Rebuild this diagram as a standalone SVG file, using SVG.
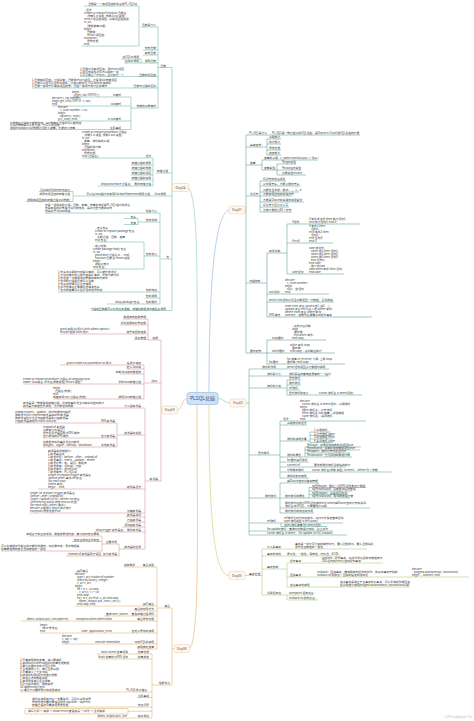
<svg xmlns="http://www.w3.org/2000/svg" width="474" height="721" viewBox="0 0 474 721">
<style>
.t{font-family:"Noto Sans CJK SC","Noto Sans",sans-serif;font-size:2.8px;fill:#3a3a3a}
.e{text-anchor:end}
.dt{font-family:"Noto Sans",sans-serif;font-size:3.4px;fill:#555;text-anchor:middle}
.day{fill:#fff8f0;stroke:#f0c49a;stroke-width:0.5}
.c{fill:none;stroke-width:0.5}
.c1{stroke:#4f8f86}.c2{stroke:#4f9a8c}.c3{stroke:#c98b8b}.c4{stroke:#5fae9a}.c5{stroke:#9cc26b}.c6{stroke:#d9a45c}
.cv{fill:none;stroke-width:0.8}
.box{fill:#fff;stroke:#d9a45c;stroke-width:0.5}
</style>
<rect width="474" height="721" fill="#fff"/>
<g id="connectors">
<path class="cv" stroke="#a8d8cc" d="M197,392.5 C197,300 199,200 188.5,187.5"/>
<path class="cv" stroke="#a7c7e6" d="M209,392.5 C209,300 213,215 229,210"/>
<path class="cv" stroke="#9fcfc4" d="M218,398.5 C224,398.5 224,403 230,403"/>
<path class="cv" stroke="#f0b8a8" d="M187,398.5 C182,398.5 182,410 177.5,410"/>
<path class="cv" stroke="#d9d98c" d="M209,404.5 C209,500 212,575 229,575.5"/>
<path class="cv" stroke="#f1bf85" d="M197,404.5 C197,520 200,640 189.5,648.5"/>
<path class="c c4" d="M172,67.5V310.5M158,67.5H172M158,27V108M141,27H158M139,6V46M84,6H139M82,46H139M143,50H158M143,55H158M141,63H158M141,59V63M121,59H141M124,63H141M80,76.5H158M32,88H158M131,108H158M131,97V129.5M72,97H131M52,106H131M58,121H131M10,129.5H131M156,173H172M153,158V186M82,158H153M131,165H153M131,170H153M131,175H153M131,180H153M98,186H153M73,196H172M73,191.5V201.5M39,191.5H73M26,201.5H73M161,259H172M160,213V304M45,213H160M138,222H160M138,218.5V224.5M124,218.5H138M124,224.5H138M144,256H160M144,242V269M95,242H144M93,269H144M58,292H160M145,298H160M107,304H160M93,310.5H172"/>
<path class="c c1" d="M245,210H246M246,135V353M246,135H360M246,147H267M267,139V155M267,139H281M267,144H281M267,150H281M267,155H281M246,165H262M262,160V170M262,160H318M262,170H277M277,164V175M277,164H296M277,170H301M277,175H306M246,196H260M260,181V212M260,181H286M260,186H300M260,192H299M260,196H292M260,202H304M260,207H289M260,212H292M246,283H267M267,253V317M267,253H287M287,224V274M287,224H360M287,243H333M287,274H344M267,294H329M267,302H334M267,317H372M246,353H267M267,340V364M267,340H326M267,353H335M267,364H345"/>
<path class="c c2" d="M246,403H249M249,369V535M249,369H329M249,376H329M249,388H287M287,380V395M287,380H301M287,385H301M287,390H300M287,395H362M249,455H280M280,421V478M280,421H366M280,425H307M280,441H310M310,432V442.5M310,432H331M310,435.5H333M310,439H333M310,442.5H333M280,457H305M305,447V457M305,447H361M305,450H360M305,453H350M305,457H352M280,462H309M280,467H346M280,472H392M280,478H309M249,498H280M280,483V513M280,483H319M280,498H309M309,487.5V498M309,487.5H366M309,491H352M309,494.5H348M309,498H350M280,508H370M280,513H314M249,523H343M281,523V526.5H327M249,531H333M249,535H347"/>
<path class="c c5" d="M245,575.5H262M262,549V595M262,549H367M262,556H341M262,569H287M287,563V587M287,563H383M287,577H469M287,587H410M262,595H313M287,595V600H318"/>
<path class="c c3" d="M161,340V481M161,410H162M148,340H161M148,319V339.5M123,319H148M120,325H148M60,334H148M134,339.5H148M144,383H161M144,365V399M60,365H144M126,369H144M120,374H144M23,384H144M53,399H144M145,481H161M145,408V549M23,408H145M117,435H145M117,423V447M15,423H117M43,438H117M43,447H117M38,489H145M30,513H145M126,517H145M126,522H145M122,527H145M94,532H145M119,549H145M119,544V556M102,544H119M102,536V551M29,536H102M72,541.5H102M1,551H102M66,556H119"/>
<path class="c c6" d="M172,608V685M172,648.5H174M157,608H172M157,567V649M124,567H157M75,606H157M134,611H157M104,616H157M21,621H157M40,633H157M62,644H157M137,649H157M152,685H172M152,654V718M97,654H152M99,659H152M20,692H152M137,697.5H152M32,707H152M128,711.25H152M97,718H152"/>
</g>
<g id="root">
<rect x="187" y="392.5" width="31" height="12" rx="2.5" fill="#cfe2f7" stroke="#8bb4e0" stroke-width="0.6"/>
<text x="202.5" y="400.4" style="font-family:'Noto Sans CJK SC','Noto Sans',sans-serif;font-size:5px;fill:#34507a;text-anchor:middle">PLSQL总结</text>
</g>
<g id="day04">
<rect class="day" x="172.5" y="183.5" width="16" height="8" rx="1.5"/>
<text class="dt" x="180.5" y="188.8">Day04</text>
</g>
<g id="day04-topics">
<text class="t e" x="166" y="66.9">函数</text>
<text class="t e" x="156" y="26.4">函数是什么</text>
<text class="t e" x="137" y="5.4">函数是一个有返回值的命名的PL/SQL块</text>
<text class="t" x="84" y="10.8"><tspan x="84">--语法</tspan><tspan x="84" dy="3.15">create or replace function 函数名</tspan><tspan x="87" dy="3.15">(参数1 in 类型, 参数2 out 类型)</tspan><tspan x="84" dy="3.15">return 返回值类型 --声明返回值类型</tspan><tspan x="84" dy="3.15">is | as</tspan><tspan x="87" dy="3.15">[局部变量声明]</tspan><tspan x="84" dy="3.15">begin</tspan><tspan x="87" dy="3.15">函数体</tspan><tspan x="87" dy="3.15">return 返回值;</tspan><tspan x="84" dy="3.15">exception</tspan><tspan x="87" dy="3.15">异常处理</tspan><tspan x="84" dy="3.15">end;</tspan></text>
<text class="t e" x="156" y="49.4">无参函数</text>
<text class="t e" x="156" y="54.4">有参函数</text>
<text class="t e" x="156" y="62.4">调用函数</text>
<text class="t e" x="139" y="58.4">在SQL中调用</text>
<text class="t e" x="139" y="62.4">在块中调用</text>
<text class="t e" x="156" y="75.9">函数的返回值</text>
<text class="t" x="80" y="69.7"><tspan x="80">1.函数必须有返回值，用return返回</tspan><tspan x="80" dy="3.1">2.返回值类型必须与声明的一致</tspan><tspan x="80" dy="3.1">3.可以有多个return，但只执行一个</tspan></text>
<text class="t e" x="156" y="87.4">函数与过程的区别</text>
<text class="t" x="32" y="81.2"><tspan x="32">1.函数有返回值，过程没有；函数用return返回，过程用out参数返回</tspan><tspan x="32" dy="3.1">2.函数可以在SQL语句中调用，过程只能在PL/SQL块中单独调用</tspan><tspan x="32" dy="3.1">3.函数一般用于计算并返回结果，过程一般用于执行业务操作</tspan></text>
<text class="t e" x="156" y="107.4">参数的三种模式</text>
<text class="t e" x="121" y="96.4">in模式</text>
<text class="t" x="72" y="93.3"><tspan x="72">begin</tspan><tspan x="74" dy="3.1">p(get_sal('SMITH'));</tspan></text>
<text class="t e" x="121" y="105.4">out模式</text>
<text class="t" x="52" y="99.2"><tspan x="52">declare v_sal number;</tspan><tspan x="52" dy="3.1">begin get_info('SMITH', v_sal);</tspan><tspan x="52" dy="3.1">end;</tspan></text>
<text class="t e" x="121" y="120.4">in out模式</text>
<text class="t" x="58" y="107.9"><tspan x="58">declare</tspan><tspan x="60" dy="2.9">v_num number := 10;</tspan><tspan x="58" dy="2.9">begin</tspan><tspan x="60" dy="2.9">square(v_num);</tspan><tspan x="58" dy="2.9">p(v_num); end;</tspan></text>
<text class="t e" x="121" y="128.9">注意事项</text>
<text class="t" x="10" y="123.6"><tspan x="10">in参数在过程中不能被赋值，out参数在过程中可以被赋值</tspan><tspan x="10" dy="2.7">in out参数既可以传入值，也可以返回值</tspan><tspan x="10" dy="2.7">调用时out和in out参数必须传入变量，不能传入常量</tspan></text>
<text class="t e" x="168" y="172.4">存储过程</text>
<text class="t" x="82" y="133"><tspan x="82">create or replace procedure 过程名</tspan><tspan x="84" dy="3.05">(参数1 in 类型, 参数2 out 类型)</tspan><tspan x="82" dy="3.05">is | as</tspan><tspan x="84" dy="3.05">变量、游标等的声明</tspan><tspan x="82" dy="3.05">begin</tspan><tspan x="84" dy="3.05">过程的执行体</tspan><tspan x="82" dy="3.05">exception</tspan><tspan x="84" dy="3.05">异常处理</tspan><tspan x="82" dy="3.05">end [过程名];</tspan></text>
<text class="t e" x="151" y="157.4">语法</text>
<text class="t e" x="151" y="164.4">存储过程的调用</text>
<text class="t e" x="151" y="169.4">存储过程的参数</text>
<text class="t e" x="151" y="174.4">存储过程的返回</text>
<text class="t e" x="151" y="179.4">存储过程的权限</text>
<text class="t e" x="151" y="185.4">删除存储过程</text>
<text class="t e" x="131" y="185.4">drop procedure 过程名;</text>
<text class="t e" x="166" y="195.4">Java调用</text>
<text class="t e" x="150" y="195.4">可以在Java程序中使用CallableStatement调用过程</text>
<text class="t e" x="70" y="190.9">CallableStatement接口</text>
<text class="t e" x="70" y="195.4">调用无返回值的存储过程</text>
<text class="t e" x="70" y="200.9">调用有返回值的存储过程(out参数)</text>
<text class="t e" x="169" y="258.4">包</text>
<text class="t e" x="157" y="212.4">包是什么</text>
<text class="t" x="45" y="206.2"><tspan x="45">包是一组相关的过程、函数、变量、常量和游标等PL/SQL程序的组合</tspan><tspan x="45" dy="3.1">包具有面向对象程序设计的特点，是对这些元素的封装</tspan><tspan x="45" dy="3.1">包类似于Java中的类</tspan></text>
<text class="t e" x="157" y="221.4">包的组成</text>
<text class="t e" x="136" y="217.9">包头</text>
<text class="t e" x="136" y="223.9">包体</text>
<text class="t" x="95" y="229.4"><tspan x="95">--定义包头</tspan><tspan x="95" dy="3">create or replace package 包名</tspan><tspan x="95" dy="3">is | as</tspan><tspan x="97" dy="3">声明过程、函数、变量</tspan><tspan x="95" dy="3">end 包名;</tspan></text>
<text class="t" x="93" y="247.4"><tspan x="93">--定义包体</tspan><tspan x="93" dy="3">create package body 包名</tspan><tspan x="93" dy="3">is | as</tspan><tspan x="95" dy="3">procedure 过程名 is ... end;</tspan><tspan x="95" dy="3">function 函数名 return 类型</tspan><tspan x="93" dy="3">begin</tspan><tspan x="95" dy="3">初始化部分</tspan><tspan x="93" dy="3">end 包名;</tspan></text>
<text class="t e" x="157" y="255.4">包的定义</text>
<text class="t e" x="157" y="291.4">包的特点</text>
<text class="t" x="58" y="273.4"><tspan x="58">1.包头中声明的内容是公有的，可以被外部访问</tspan><tspan x="58" dy="3">2.只在包体中定义的内容是私有的，外部不能访问</tspan><tspan x="58" dy="3">3.包在第一次被调用时整体加载到内存中</tspan><tspan x="58" dy="3">4.包中的过程和函数可以重载</tspan><tspan x="58" dy="3">5.包头和包体可以分开编译</tspan><tspan x="58" dy="3">6.修改包体后不需要重新编译包头</tspan><tspan x="58" dy="3">7.包中的变量可以在会话中保持状态</tspan></text>
<text class="t e" x="157" y="297.4">包的调用</text>
<text class="t e" x="157" y="303.4">包的删除</text>
<text class="t e" x="140" y="303.4">drop package 包名;</text>
<text class="t e" x="166" y="309.9">过程和函数都可以封装业务逻辑，存储在数据库中被重复调用</text>
</g>
<g id="day01">
<rect class="day" x="229" y="206" width="16" height="8" rx="1.5"/>
<text class="dt" x="237" y="211.3">Day01</text>
</g>
<g id="day01-topics">
<text class="t" x="249" y="134.4">PL/SQL是什么</text>
<text class="t" x="272" y="134.4">PL/SQL是一种过程化的SQL语言，是Oracle公司对标准SQL语言的扩展</text>
<text class="t" x="250" y="146.4">基本结构</text>
<text class="t" x="269" y="138.4">声明部分</text>
<text class="t" x="269" y="143.4">执行部分</text>
<text class="t" x="269" y="149.4">异常处理</text>
<text class="t" x="269" y="154.4">结束部分</text>
<text class="t" x="250" y="164.4">变量</text>
<text class="t" x="264" y="159.4">变量的声明</text>
<text class="t" x="280" y="159.4">v_name varchar2(20) := '张三';</text>
<text class="t" x="264" y="169.4">变量类型</text>
<text class="t" x="282" y="163.4">%type类型</text>
<text class="t" x="282" y="169.4">%rowtype类型</text>
<text class="t" x="282" y="174.4">记录类型record</text>
<text class="t" x="250" y="195.4">标识符</text>
<text class="t" x="263" y="180.4">标识符的命名规则</text>
<text class="t" x="263" y="185.4">以字母开头，不能以数字开头</text>
<text class="t" x="263" y="191.4">只能包含字母、数字、_、$、#</text>
<text class="t" x="263" y="195.4">不能使用空格和特殊字符</text>
<text class="t" x="263" y="201.4">不能是Oracle的关键字和保留字</text>
<text class="t" x="263" y="206.4">标识符不区分大小写</text>
<text class="t" x="263" y="211.4">长度不能超过30个字符</text>
<text class="t" x="249" y="282.4">流程控制</text>
<text class="t" x="269" y="252.4">条件判断</text>
<text class="t" x="292" y="223.4">if语句</text>
<text class="t" x="309" y="220.4"><tspan x="309">if 条件表达式 then 执行语句1;</tspan><tspan x="309" dy="3">else 执行语句2; end if;</tspan></text>
<text class="t" x="292" y="242.4">if elsif</text>
<text class="t" x="309" y="227.4"><tspan x="309">if 条件1 then</tspan><tspan x="311" dy="3">语句1;</tspan><tspan x="309" dy="3">elsif 条件2 then</tspan><tspan x="311" dy="3">语句2;</tspan><tspan x="309" dy="3">else 语句3;</tspan><tspan x="309" dy="3">end if;</tspan></text>
<text class="t" x="292" y="273.4">case语句</text>
<text class="t" x="309" y="249.4"><tspan x="309">case 表达式</tspan><tspan x="311" dy="3">when 值1 then 语句1;</tspan><tspan x="311" dy="3">when 值2 then 语句2;</tspan><tspan x="311" dy="3">when 值3 then 语句3;</tspan><tspan x="311" dy="3">else 语句n;</tspan><tspan x="309" dy="3">end case;</tspan><tspan x="309" dy="3">--搜索式case</tspan><tspan x="309" dy="3">case when 条件 then 语句;</tspan><tspan x="309" dy="3">end case;</tspan></text>
<text class="t" x="269" y="293.4">null语句</text>
<text class="t" x="285" y="281.4"><tspan x="285">declare</tspan><tspan x="287" dy="3">v_num number;</tspan><tspan x="285" dy="3">begin</tspan><tspan x="287" dy="3">null; --空语句</tspan><tspan x="285" dy="3">end;</tspan></text>
<text class="t" x="269" y="301.4">select into语句必须且只能返回一行数据，否则报错</text>
<text class="t" x="269" y="316.4">DML操作</text>
<text class="t" x="285" y="307.4"><tspan x="285">insert into 表名 values(值1, 值2, ...);</tspan><tspan x="285" dy="3">update 表名 set 列名 = 值 where 条件;</tspan><tspan x="285" dy="3">delete from 表名 where 条件;</tspan><tspan x="285" dy="3">commit; --增删改后需要手动提交事务</tspan></text>
<text class="t" x="250" y="352.4">循环结构</text>
<text class="t" x="272" y="339.4">loop循环</text>
<text class="t" x="292" y="327.4"><tspan x="292">--先执行后判断</tspan><tspan x="292" dy="3">loop</tspan><tspan x="294" dy="3">循环体;</tspan><tspan x="294" dy="3">exit when 条件;</tspan><tspan x="292" dy="3">end loop;</tspan></text>
<text class="t" x="272" y="352.4">while循环</text>
<text class="t" x="290" y="346.4"><tspan x="290">while 条件 loop</tspan><tspan x="292" dy="3">循环体;</tspan><tspan x="290" dy="3">end loop; --先判断后执行</tspan></text>
<text class="t" x="269" y="363.4">for循环</text>
<text class="t" x="287" y="360.4"><tspan x="287">for 变量 in [reverse] 下限..上限 loop</tspan><tspan x="287" dy="3">循环体; end loop;</tspan></text>
</g>
<g id="day02">
<rect class="day" x="230" y="399" width="16" height="8" rx="1.5"/>
<text class="dt" x="238" y="404.3">Day02</text>
</g>
<g id="day02-topics">
<text class="t" x="262" y="368.4">游标的作用</text>
<text class="t" x="287" y="368.4">select语句返回多行数据时使用</text>
<text class="t" x="267" y="375.4">游标是什么</text>
<text class="t" x="289" y="375.4">游标是指向查询结果集的一个指针</text>
<text class="t" x="267" y="387.4">游标的分类</text>
<text class="t" x="289" y="379.4">显式游标</text>
<text class="t" x="289" y="384.4">隐式游标</text>
<text class="t" x="289" y="389.4">ref游标</text>
<text class="t" x="289" y="394.4">显式游标的定义</text>
<text class="t" x="319" y="394.4">cursor 游标名 is select语句;</text>
<text class="t" x="258" y="454.4">显式游标</text>
<text class="t" x="283" y="420.4">语法</text>
<text class="t" x="300" y="402.4"><tspan x="300">declare</tspan><tspan x="302" dy="3">cursor 游标名 is select语句; --声明游标</tspan><tspan x="300" dy="3">begin</tspan><tspan x="302" dy="3">open 游标名; --打开游标</tspan><tspan x="302" dy="3">fetch 游标名 into 变量; --提取数据</tspan><tspan x="302" dy="3">close 游标名; --关闭游标</tspan><tspan x="300" dy="3">end;</tspan></text>
<text class="t" x="287" y="424.4">声明游标的语法</text>
<text class="t" x="287" y="440.4">游标的使用步骤</text>
<text class="t" x="314" y="431.4">1.声明游标</text>
<text class="t" x="314" y="434.9">2.打开游标 open</text>
<text class="t" x="314" y="438.4">3.提取数据 fetch</text>
<text class="t" x="314" y="441.9">4.关闭游标 close</text>
<text class="t" x="287" y="456.4">游标的属性</text>
<text class="t" x="307" y="446.4">%found：如果提取到数据则返回true</text>
<text class="t" x="307" y="449.4">%notfound：没有提取到数据返回true</text>
<text class="t" x="307" y="452.4">%isopen：游标打开时返回true</text>
<text class="t" x="307" y="456.4">%rowcount：已经提取的数据行数</text>
<text class="t" x="287" y="461.4">for循环遍历游标</text>
<text class="t" x="287" y="466.4">current of</text>
<text class="t" x="314" y="466.4">更新或删除游标当前指向的行</text>
<text class="t" x="287" y="471.4">带参数的游标</text>
<text class="t" x="312" y="471.4">cursor 游标名(参数 类型) is select ... where 列 = 参数;</text>
<text class="t" x="287" y="477.4">游标的嵌套使用</text>
<text class="t" x="265" y="497.4">隐式游标</text>
<text class="t" x="287" y="482.4">由Oracle自动创建和管理</text>
<text class="t" x="285" y="497.4">隐式游标的属性</text>
<text class="t" x="312" y="486.9">sql%found：最近一次DML语句影响了数据</text>
<text class="t" x="312" y="490.4">sql%notfound：没有影响任何数据</text>
<text class="t" x="312" y="493.9">sql%isopen：总是返回false</text>
<text class="t" x="312" y="497.4">sql%rowcount：影响的数据行数</text>
<text class="t" x="285" y="504.4"><tspan x="285">隐式游标在执行DML语句或select into时由Oracle自动打开和关闭，</tspan><tspan x="285" dy="3">游标名称为SQL，不需要用户声明</tspan></text>
<text class="t" x="285" y="512.4">隐式游标的特点和作用</text>
<text class="t" x="267" y="522.4">ref游标</text>
<text class="t" x="284" y="518.9"><tspan x="284">ref游标也称为动态游标，运行时才确定查询语句</tspan><tspan x="284" dy="3">type 游标类型 is ref cursor;</tspan></text>
<text class="t" x="284" y="525.9">open 游标变量 for select语句;</text>
<text class="t" x="267" y="530.4">for update游标：查询时对数据行加锁，防止修改</text>
<text class="t" x="267" y="534.4">cursor 游标名 is select ... for update [of 列] [nowait];</text>
</g>
<g id="day05">
<rect class="day" x="229" y="571.5" width="16" height="8" rx="1.5"/>
<text class="dt" x="237" y="576.8">Day05</text>
</g>
<g id="day05-topics">
<text class="t" x="249" y="574.9">事务处理</text>
<text class="t" x="267" y="548.4">什么是事务</text>
<text class="t" x="295" y="545.4"><tspan x="295">事务是一组不可分割的操作单元，要么全部成功，要么全部失败</tspan><tspan x="295" dy="3">用于保证数据的一致性</tspan></text>
<text class="t" x="267" y="555.4">事务的特性</text>
<text class="t" x="287" y="555.4">原子性、一致性、隔离性、持久性（ACID）</text>
<text class="t" x="267" y="568.4">事务控制</text>
<text class="t" x="290" y="562.4">提交事务</text>
<text class="t" x="322" y="559.4"><tspan x="322">commit：提交事务，将修改永久保存到数据库中</tspan><tspan x="322" dy="3">DDL语句执行时会自动提交事务</tspan></text>
<text class="t" x="290" y="576.4">回滚事务</text>
<text class="t" x="317" y="573.4"><tspan x="317">rollback：回滚事务，撤销所有未提交的修改，恢复到事务开始前</tspan><tspan x="317" dy="3">rollback to 保存点：回滚到指定的保存点</tspan></text>
<text class="t" x="412" y="570.4"><tspan x="412">declare</tspan><tspan x="414" dy="3">pragma autonomous_transaction;</tspan><tspan x="412" dy="3">begin ... commit; end;</tspan></text>
<text class="t" x="290" y="586.4">自治事务的使用</text>
<text class="t" x="340" y="583.4"><tspan x="340">自治事务是独立于主事务的子事务，可以单独提交或回滚</tspan><tspan x="340" dy="3">在声明部分使用pragma autonomous_transaction声明</tspan></text>
<text class="t" x="267" y="594.4">设置保存点</text>
<text class="t" x="289" y="594.4">savepoint 保存点名;</text>
<text class="t" x="289" y="599.4">rollback to 保存点名;</text>
</g>
<g id="day03">
<rect class="day" x="162" y="406" width="15.5" height="8" rx="1.5"/>
<text class="dt" x="169.75" y="411.3">Day03</text>
</g>
<g id="day03-topics">
<text class="t e" x="158" y="339.4">权限</text>
<text class="t e" x="146" y="318.4">数据库的权限管理</text>
<text class="t e" x="146" y="324.4">系统权限和对象权限</text>
<text class="t e" x="146" y="333.4">授予和回收权限</text>
<text class="t" x="60" y="330.4"><tspan x="60">grant 权限 to 用户 [with admin option];</tspan><tspan x="60" dy="3">revoke 权限 from 用户;</tspan></text>
<text class="t e" x="146" y="338.9">角色管理</text>
<text class="t e" x="157" y="382.4">Java</text>
<text class="t e" x="141" y="364.4">给用户授权</text>
<text class="t e" x="112" y="364.4">grant create any procedure to 用户;</text>
<text class="t e" x="141" y="368.4">定义Java类</text>
<text class="t e" x="141" y="373.4">加载Java类到数据库</text>
<text class="t e" x="141" y="383.4">发布Java存储过程</text>
<text class="t" x="23" y="380.4"><tspan x="23">create or replace procedure 过程名 as language java</tspan><tspan x="23" dy="3">name 'Java类名.方法名(参数类型) return 类型';</tspan></text>
<text class="t e" x="141" y="398.4">调用Java存储过程</text>
<text class="t" x="53" y="389.4"><tspan x="53">begin</tspan><tspan x="55" dy="3">过程名(参数);</tspan><tspan x="53" dy="3">end;</tspan><tspan x="53" dy="3">或者使用 call 过程名(参数);</tspan></text>
<text class="t e" x="158" y="480.4">触发器</text>
<text class="t e" x="141" y="407.4">什么是触发器</text>
<text class="t" x="23" y="404.4"><tspan x="23">触发器是一种特殊的存储过程，在特定事件发生时由系统自动执行</tspan><tspan x="23" dy="3">触发器不能被显式调用，也不能接收参数</tspan></text>
<text class="t e" x="141" y="434.4">触发器的类型</text>
<text class="t e" x="115" y="422.4">DML触发器</text>
<text class="t" x="15" y="413.4"><tspan x="15">对表执行insert、update、delete操作时触发</tspan><tspan x="15" dy="3">按触发时间分为before触发器和after触发器</tspan><tspan x="15" dy="3">按触发级别分为语句级触发器和行级触发器</tspan><tspan x="15" dy="3">行级触发器使用for each row子句</tspan></text>
<text class="t e" x="115" y="437.4">替代触发器</text>
<text class="t" x="43" y="428.4"><tspan x="43">instead of 触发器</tspan><tspan x="43" dy="3">只能建立在视图上</tspan><tspan x="43" dy="3">用于对复杂视图执行DML操作</tspan><tspan x="43" dy="3">替代原来的DML操作</tspan></text>
<text class="t e" x="115" y="446.4">系统触发器</text>
<text class="t" x="43" y="443.4"><tspan x="43">在数据库系统事件发生时触发</tspan><tspan x="43" dy="3">如logon、logoff、startup、shutdown</tspan></text>
<text class="t e" x="141" y="488.4">触发器语法</text>
<text class="t" x="48" y="452.4"><tspan x="48">触发器的组成部分：</tspan><tspan x="48" dy="3">1.触发器名称</tspan><tspan x="48" dy="3">2.触发时机：before、after、instead of</tspan><tspan x="48" dy="3">3.触发事件：insert、update、delete</tspan><tspan x="48" dy="3">4.触发对象：表、视图、数据库</tspan><tspan x="48" dy="3">5.触发频率：语句级、行级</tspan><tspan x="48" dy="3">6.触发条件：when子句</tspan><tspan x="48" dy="3">7.触发操作：PL/SQL块</tspan><tspan x="48" dy="3">create or replace trigger 触发器名</tspan><tspan x="48" dy="3">{before|after} 事件 on 表名</tspan><tspan x="48" dy="3">[for each row]</tspan><tspan x="48" dy="3">[when 条件]</tspan><tspan x="48" dy="3">begin ... end;</tspan></text>
<text class="t e" x="141" y="512.4">创建触发器</text>
<text class="t" x="30" y="494.4"><tspan x="30">create [or replace] trigger 触发器名</tspan><tspan x="30" dy="3">{before | after | instead of}</tspan><tspan x="30" dy="3">{insert | update [of 列] | delete} on 表名</tspan><tspan x="30" dy="3">[referencing old as 旧值 new as 新值]</tspan><tspan x="30" dy="3">[for each row] [when (条件)]</tspan><tspan x="30" dy="3">declare 声明部分 begin 执行部分</tspan><tspan x="30" dy="3">exception 异常处理 end;</tspan></text>
<text class="t e" x="141" y="516.4">触发器谓词</text>
<text class="t e" x="141" y="521.4">行级触发器</text>
<text class="t e" x="141" y="526.4">语句级触发器</text>
<text class="t e" x="141" y="531.4">删除触发器</text>
<text class="t e" x="124" y="531.4">drop trigger 触发器名;</text>
<text class="t e" x="141" y="548.4">触发器的应用</text>
<text class="t e" x="117" y="543.4">主要作用</text>
<text class="t e" x="99" y="535.4">实现复杂的业务规则、数据完整性约束、审计和日志记录等</text>
<text class="t e" x="99" y="540.9">自动生成派生列的值</text>
<text class="t" x="1" y="547.4"><tspan x="1">可以在数据修改前后执行额外的操作，如记录日志、同步数据等</tspan><tspan x="1" dy="3">提高数据库的安全性和数据的一致性</tspan></text>
<text class="t e" x="117" y="555.4">替代触发器</text>
<text class="t e" x="101" y="555.4">instead of 触发器用于视图</text>
</g>
<g id="day06">
<rect class="day" x="174" y="644.5" width="15.5" height="8" rx="1.5"/>
<text class="dt" x="181.75" y="649.8">Day06</text>
</g>
<g id="day06-topics">
<text class="t e" x="170" y="607.4">集合</text>
<text class="t e" x="154" y="566.4">集合类型</text>
<text class="t e" x="135" y="566.4">关联数组</text>
<text class="t e" x="154" y="605.4">遍历集合</text>
<text class="t" x="75" y="572.4"><tspan x="75">--遍历集合</tspan><tspan x="75" dy="3">declare</tspan><tspan x="77" dy="3">type t_arr is table of number</tspan><tspan x="77" dy="3">index by binary_integer;</tspan><tspan x="77" dy="3">v_arr t_arr;</tspan><tspan x="75" dy="3">begin</tspan><tspan x="77" dy="3">for i in 1..10 loop</tspan><tspan x="79" dy="3">v_arr(i) := i * 10;</tspan><tspan x="77" dy="3">end loop;</tspan><tspan x="77" dy="3">for i in v_arr.first..v_arr.last loop</tspan><tspan x="79" dy="3">dbms_output.put_line(v_arr(i));</tspan><tspan x="77" dy="3">end loop; end;</tspan></text>
<text class="t e" x="154" y="610.4">集合的常用方法</text>
<text class="t e" x="154" y="615.4">查看存储过程源码</text>
<text class="t e" x="128" y="615.4">查询 user_source</text>
<text class="t e" x="154" y="620.4">集合异常处理</text>
<text class="t e" x="112" y="620.4">exception when others then</text>
<text class="t e" x="69" y="620.4">dbms_output.put_line(sqlerrm);</text>
<text class="t e" x="154" y="632.4">自定义异常的使用</text>
<text class="t e" x="112" y="632.4">raise_application_error</text>
<text class="t" x="40" y="626.4"><tspan x="40">begin</tspan><tspan x="42" dy="3">raise 异常名;</tspan><tspan x="40" dy="3">end;</tspan></text>
<text class="t e" x="154" y="643.4">动态SQL的使用</text>
<text class="t e" x="120" y="643.4">execute immediate</text>
<text class="t" x="62" y="637.4"><tspan x="62">declare</tspan><tspan x="62" dy="3">v_sql := 'sql';</tspan><tspan x="62" dy="3">begin</tspan></text>
<text class="t e" x="154" y="648.4">使用绑定变量</text>
<text class="t e" x="170" y="684.4">性能优化</text>
<text class="t e" x="149" y="653.4">批量处理</text>
<text class="t e" x="128" y="653.4">bulk collect 批量提取</text>
<text class="t e" x="149" y="658.4">批量绑定</text>
<text class="t e" x="128" y="658.4">forall 批量执行DML语句</text>
<text class="t e" x="147" y="691.4">PL/SQL优化建议</text>
<text class="t" x="20" y="661.4"><tspan x="20">1.尽量使用绑定变量，减少硬解析</tspan><tspan x="20" dy="3">2.使用bulk collect和forall批量处理数据</tspan><tspan x="20" dy="3">3.避免在循环中执行SQL语句</tspan><tspan x="20" dy="3">4.合理使用索引，避免全表扫描</tspan><tspan x="20" dy="3">5.尽量减少上下文切换</tspan><tspan x="20" dy="3">6.使用nocopy提示传递大参数</tspan><tspan x="20" dy="3">7.使用合适的数据类型</tspan><tspan x="20" dy="3">8.使用包来减少重复加载</tspan><tspan x="20" dy="3">9.及时关闭游标，释放资源</tspan><tspan x="20" dy="3">10.使用exists代替in</tspan><tspan x="20" dy="3">11.避免不必要的排序和类型转换</tspan></text>
<text class="t e" x="149" y="696.9">注意事项</text>
<text class="t e" x="149" y="706.4">常见问题</text>
<text class="t" x="32" y="700.4"><tspan x="32">游标在使用完毕后一定要关闭，否则会占用资源</tspan><tspan x="32" dy="3">异常处理中要记录错误信息(sqlcode、sqlerrm)</tspan><tspan x="32" dy="3">存储过程中尽量使用异常处理</tspan></text>
<rect class="box" x="25" y="708.5" width="103" height="5.5" rx="0.8"/>
<text class="t" x="28" y="712.4">编写代码 → 编译 → show errors 查看错误 → 修改 → 重新编译</text>
<text class="t e" x="149" y="717.4">输出调试</text>
<text class="t e" x="127" y="717.4">dbms_output.put_line</text>
</g>
<text x="472" y="718.4" style="font-family:'Noto Sans CJK SC','Noto Sans',sans-serif;font-size:2.8px;fill:#c0c0c0;text-anchor:end">CSDN @数据库老司机</text>
</svg>
